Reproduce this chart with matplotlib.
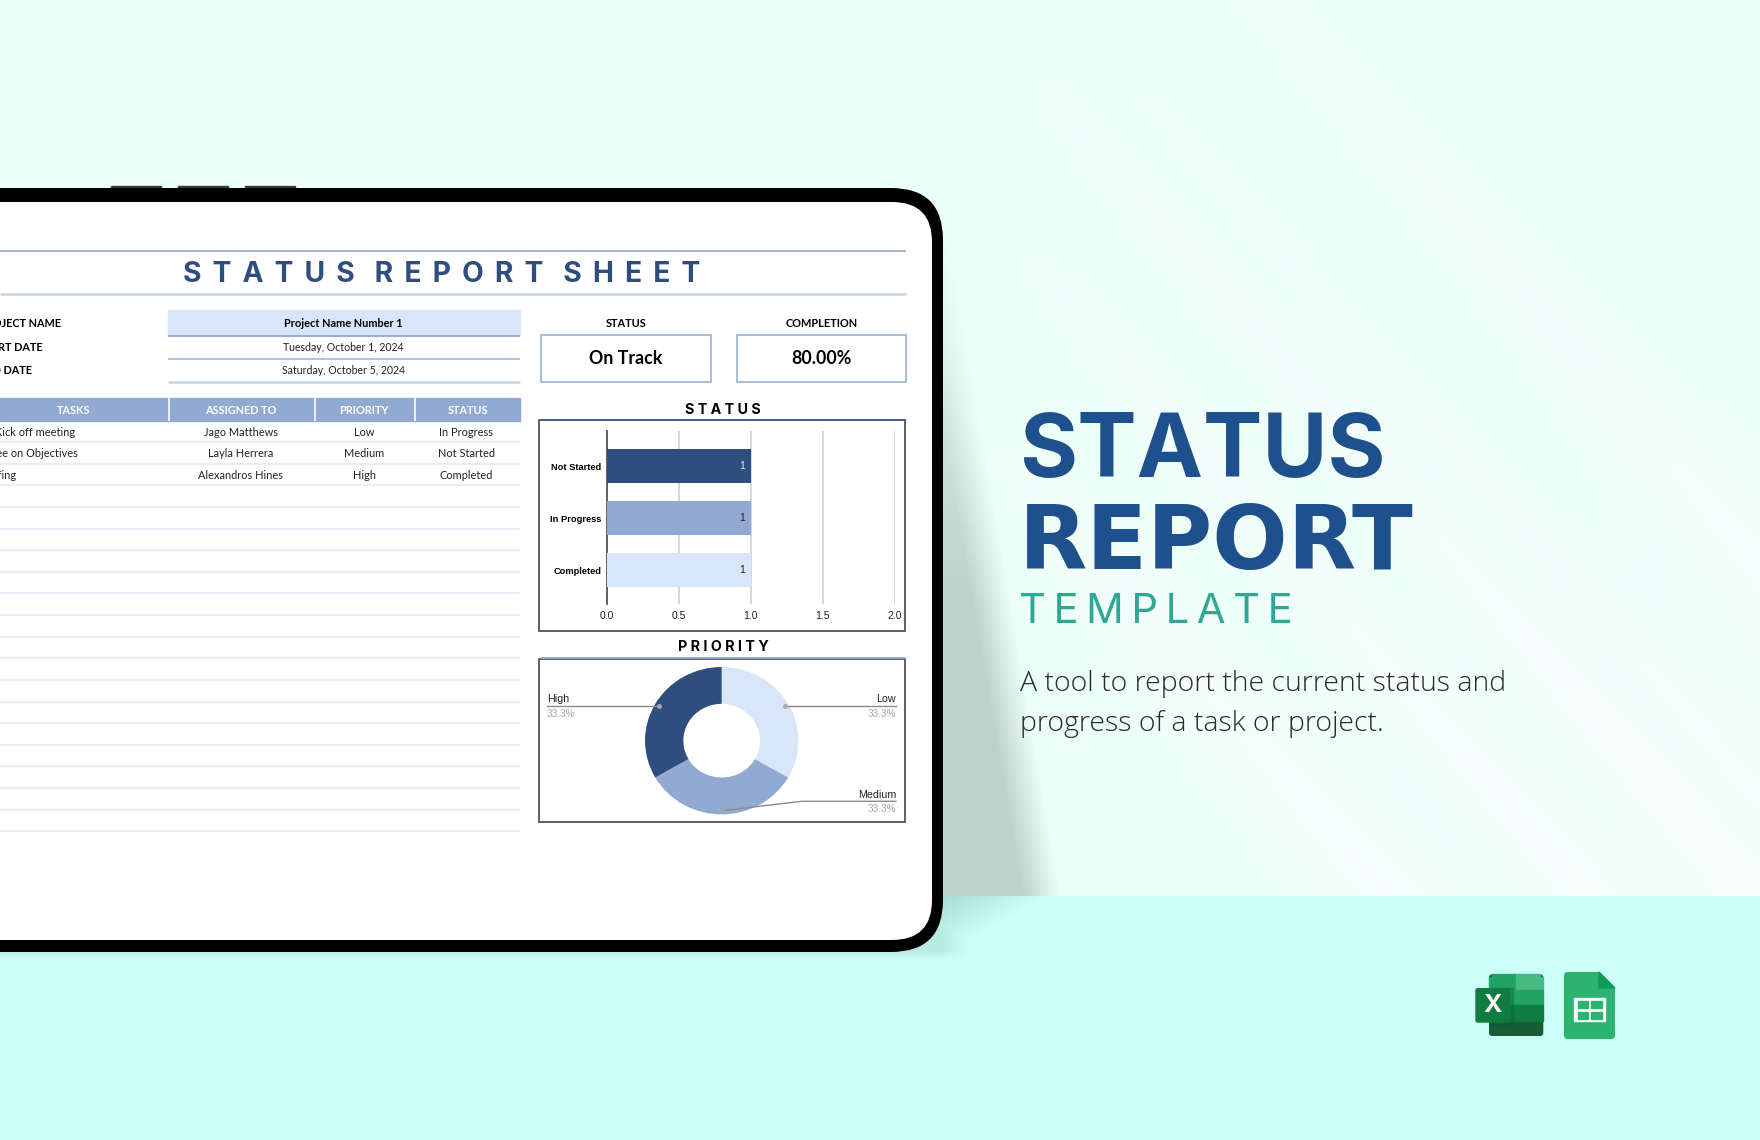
import matplotlib
matplotlib.use("Agg")
import matplotlib.pyplot as plt
import numpy as np
from matplotlib.patches import FancyBboxPatch, Polygon, Rectangle

W, H = 1760, 1140

status_names = ["Not Started", "In Progress", "Completed"]
status_counts = [1, 1, 1]
status_ticks = [0.0, 0.5, 1.0, 1.5, 2.0]
priority_names = ["Low", "Medium", "High"]
priority_counts = [1, 1, 1]
priority_share = ["33.3%", "33.3%", "33.3%"]

task_names = ["Kick off meeting", "Agree on Objectives", "Briefing"]
task_people = ["Jago Matthews", "Layla Herrera", "Alexandros Hines"]
task_priority = ["Low", "Medium", "High"]
task_status = ["In Progress", "Not Started", "Completed"]
table_header = ["TASKS", "ASSIGNED TO", "PRIORITY", "STATUS"]
info_labels = ["PROJECT NAME", "START DATE", "END DATE"]
info_values = ["Project Name Number 1", "Tuesday, October 1, 2024", "Saturday, October 5, 2024"]

NAVY = "#2F4E80"
MID = "#92A9D2"
PALE = "#D9E6F9"
THIN = "\u2009"
HAIR = "\u200a"


def spaced(text, sep):
    # letter spacing, matplotlib has no tracking option
    return sep.join(text)


def px_axes(fig, x0, y0, x1, y1, **kw):
    return fig.add_axes([x0 / W, 1 - y1 / H, (x1 - x0) / W, (y1 - y0) / H], **kw)


def background():
    yy, xx = np.mgrid[0:H, 0:W].astype(float)
    top = np.array([232, 254, 247], float)
    light = np.array([247, 255, 253], float)

    # soft diagonal light streaks
    s = xx - yy * 0.88
    t = 0.2 + 0.4 * np.clip((xx - 900) / 800, 0, 1) * np.clip(yy / 700, 0, 1)
    for c, w, a in [(965, 45, 0.4), (1266, 55, 0.35), (800, 50, 0.4), (600, 70, 0.45), (1060, 30, 0.25)]:
        t += a * np.exp(-((s - c) / w) ** 2) * np.clip((xx - 850) / 300, 0, 1)
    t = np.clip(t, 0, 1)[..., None]
    img = top * (1 - t) + light * t

    # shadow thrown by the tablet on the wall
    edge = 947 + np.clip(yy - 230, 0, None) * 0.17
    a = np.clip((edge - xx) / 38, 0, 1) * np.clip((yy - 200) / 400, 0, 1) ** 0.8 * 0.95
    a = a[..., None]
    img = img * (1 - a) + np.array([190, 207, 201], float) * a

    # floor band and its shadow
    floor = np.zeros_like(img) + np.array([204, 255, 247], float)
    d = (xx - 940) / 105 + (yy - 896) / 60
    diag = np.clip(1 - d, 0, 1) * 0.9 * (xx >= 940)
    under = np.clip((959 - yy) / 9, 0, 1) * np.clip((968 - xx) / 28, 0, 1) * 0.5
    fa = np.maximum(diag, under)[..., None]
    floor = floor * (1 - fa) + np.array([165, 215, 205], float) * fa
    img = np.where((yy >= 896)[..., None], floor, img)
    return img.astype(np.uint8)


def draw_tablet(ax):
    for x in [111, 178, 245]:
        ax.add_patch(Rectangle((x, 185.5), 50, 4, color="#3a3a3a", zorder=1))
    ax.add_patch(FancyBboxPatch((-120, 188), 1063, 764, boxstyle="round,pad=0,rounding_size=52",
                                fc="black", ec="none", zorder=2))
    ax.add_patch(FancyBboxPatch((-120, 202), 1052, 738, boxstyle="round,pad=0,rounding_size=40",
                                fc="white", ec="none", zorder=3))


def draw_sheet(ax):
    z = 4
    ax.hlines(251.3, 0, 906, color="#8FA8D0", lw=1.2, zorder=z)
    ax.hlines(293.7, 0, 906, color="#C5D3E8", lw=1.8, zorder=z)
    sep = " " + HAIR + HAIR
    ax.text(441.5, 274, spaced("STATUS", sep) + "   " + spaced("REPORT", sep) + "   " + spaced("SHEET", sep),
            family="Inter", weight="bold", size=20.3, color=NAVY, ha="center", va="center", zorder=z)

    # project info block
    ax.add_patch(Rectangle((168.4, 310), 351.2, 25.3, color=PALE, zorder=z))
    ys = [323.7, 347.7, 371]
    rights = [61, 43, 32]
    for y, r, lab, val, i in zip(ys, rights, info_labels, info_values, range(3)):
        ax.text(r, y, lab, family="Lato", weight="bold", size=7.8, color="black", ha="right", va="center", zorder=z)
        ax.text(343.5, y, val, family="Lato", weight="bold" if i == 0 else "normal", size=7.9 if i == 0 else 7.6,
                color="black" if i == 0 else "#222222", ha="center", va="center", zorder=z)
    ax.hlines(335.5, 168.4, 519.6, color="#8FA8D0", lw=1.3, zorder=z)
    ax.hlines(358.7, 168.4, 519.6, color="#A9BEE0", lw=1.3, zorder=z)
    ax.hlines(381.7, 168.4, 519.6, color="#C5D3E8", lw=1.8, zorder=z)

    # task table
    ax.add_patch(Rectangle((0, 398.3), 519.6, 22.4, color=MID, zorder=z))
    ax.vlines([168.8, 314.7, 415], 398.3, 420.7, color="white", lw=1.2, zorder=z)
    for x, lab in zip([73.6, 241, 364.3, 467.5], table_header):
        ax.text(x, 410.5, lab, family="Lato", weight="bold", size=7.8, color="white",
                ha="center", va="center", zorder=z)
    row_y = 432 + 21.65 * np.arange(len(task_names))
    for y, name, who, pr, st, r in zip(row_y, task_names, task_people, task_priority, task_status, [75, 78, 16]):
        ax.text(r, y, name, family="Lato", size=7.9, color="#222222", ha="right", va="center", zorder=z)
        ax.text(241, y, who, family="Lato", size=7.9, color="#222222", ha="center", va="center", zorder=z)
        ax.text(364, y, pr, family="Lato", size=7.9, color="#222222", ha="center", va="center", zorder=z)
        ax.text(466, y, st, family="Lato", size=7.9, color="#222222", ha="center", va="center", zorder=z)
    ax.hlines(442 + 21.63 * np.arange(19), 0, 519.6, color="#E6EEFB", lw=1.4, zorder=z)

    # status / completion cards
    for x0, x1, lab, val in [(541, 710.7, "STATUS", "On Track"), (736.7, 905.7, "COMPLETION", "80.00%")]:
        ax.add_patch(Rectangle((x0, 335.3), x1 - x0, 47, fc="white", ec="#A9BCDC", lw=1.4, zorder=z))
        ax.text((x0 + x1) / 2, 323.7, lab, family="Lato", weight="bold", size=7.9, color="black",
                ha="center", va="center", zorder=z)
        ax.text((x0 + x1) / 2, 358.5, val, family="Lato", weight="bold", size=12.8, color="black",
                ha="center", va="center", zorder=z)

    # chart frames and headings
    ax.text(723, 409.5, spaced("STATUS", " "), family="Inter", weight="bold", size=10.3, color="black",
            ha="center", va="center", zorder=z)
    ax.text(723, 647, spaced("PRIORITY", " "), family="Inter", weight="bold", size=10.3, color="black",
            ha="center", va="center", zorder=z)
    ax.add_patch(Rectangle((539, 420), 366, 210.7, fc="white", ec="#555555", lw=1.3, zorder=z))
    ax.add_patch(Rectangle((538.5, 659), 366, 163, fc="white", ec="#555555", lw=1.3, zorder=z))
    ax.hlines(420, 541, 906, color="#3E5C92", lw=1.3, zorder=z + 0.1)
    ax.hlines(657.7, 541, 906, color="#8FA8D1", lw=1.3, zorder=z + 0.1)


def draw_headline(ax):
    ax.text(1019, 477, "STATUS", family="Inter", weight="bold", size=64, color="#1F508E", ha="left", va="baseline")
    ax.text(1019, 569, "REPORT", family="DejaVu Sans", weight="bold", size=64, color="#1F508E", ha="left", va="baseline")
    ax.text(1019, 623, spaced("TEMPLATE", THIN), family="Inter", size=30, color="#2FA893", ha="left", va="baseline")
    ax.text(1020, 691, "A tool to report the current status and", family="Open Sans", weight="light",
            size=20.5, color="#2A2A2A", ha="left", va="baseline")
    ax.text(1020, 731, "progress of a task or project.", family="Open Sans", weight="light",
            size=20.5, color="#2A2A2A", ha="left", va="baseline")


def round_box(ax, x0, y0, x1, y1, r, color, zorder=3):
    ax.add_patch(FancyBboxPatch((x0, y0), x1 - x0, y1 - y0, boxstyle=f"round,pad=0,rounding_size={r}",
                                fc=color, ec="none", zorder=zorder))


def draw_icons(ax):
    # excel
    round_box(ax, 1489, 974.3, 1543.3, 1036, 3, "#185C37")
    ax.add_patch(Rectangle((1489, 977), 27, 28, color="#21A366", zorder=3))
    ax.add_patch(Rectangle((1492, 974.3), 24, 4, color="#21A366", zorder=3))
    ax.add_patch(Rectangle((1516, 977), 27.3, 13, color="#47B983", zorder=3))
    ax.add_patch(Rectangle((1516, 974.3), 24, 4, color="#47B983", zorder=3))
    ax.add_patch(Rectangle((1516, 990), 27.3, 15, color="#21A366", zorder=3))
    ax.add_patch(Rectangle((1489, 1005), 54.3, 15.7, color="#107C41", zorder=3))
    ax.add_patch(Rectangle((1489, 988), 24, 37, color="#0B5B30", alpha=0.35, zorder=3.5))
    round_box(ax, 1475.3, 988, 1510, 1022.7, 2.5, "#107C41", zorder=4)
    ax.text(1492.5, 1005.5, "X", family="Inter", weight="bold", size=18, color="white",
            ha="center", va="center", zorder=5)
    # google sheets
    round_box(ax, 1564, 972, 1615, 1039, 4, "#2BB36F")
    ax.add_patch(Polygon([(1599, 971), (1616, 971), (1616, 989)], color="#CCFFF7", zorder=3.2))
    ax.add_patch(Polygon([(1599, 972), (1615, 988), (1599, 988)], color="#0B9D58", zorder=3.3))
    ax.add_patch(Rectangle((1574, 997.7), 31, 23, color="white", zorder=4))
    for x in [1577.5, 1591]:
        for y in [1001, 1011.5]:
            ax.add_patch(Rectangle((x, y), 10.5, 7, color="#2BB36F", zorder=5))


fig = plt.figure(figsize=(W / 100, H / 100), dpi=100)
page = fig.add_axes([0, 0, 1, 1], zorder=0)
page.imshow(background(), extent=(0, W, H, 0), aspect="auto", interpolation="bilinear", zorder=0)
page.set_xlim(0, W)
page.set_ylim(H, 0)
page.axis("off")
draw_tablet(page)
draw_sheet(page)
draw_headline(page)
draw_icons(page)

# status bars
ax = px_axes(fig, 606.7, 430.7, 894.7, 604, zorder=2)
ax.patch.set_alpha(0)
bars = ax.barh(status_names, status_counts, height=0.65, color=[NAVY, MID, PALE], zorder=3)
ax.set_xlim(0, 2)
ax.set_ylim(2.65, -0.68)
ax.set_xticks(status_ticks, [f"{v:.1f}" for v in status_ticks], family="Liberation Sans", fontsize=7.5, color="#222222")
ax.tick_params(axis="both", length=0)
ax.tick_params(axis="x", pad=5)
ax.tick_params(axis="y", pad=4)
for lab in ax.get_yticklabels():
    lab.set(family="Liberation Sans", weight="bold", fontsize=6.7, color="black")
ax.grid(axis="x", color="#CFCFCF", lw=1.2, zorder=1)
ax.set_axisbelow(True)
for name in ["top", "right", "bottom"]:
    ax.spines[name].set_visible(False)
ax.spines["left"].set(color="#555555", lw=1.3, zorder=2)
labels = ax.bar_label(bars, padding=-8.5, family="Liberation Sans", fontsize=7.5)
for lab, c in zip(labels, ["#E8E8E8", "#222222", "#222222"]):
    lab.set_color(c)

# priority donut
cx, cy, rx, ry = 721.7, 740.7, 76.7, 73.7
donut = px_axes(fig, cx - rx, cy - ry, cx + rx, cy + ry, zorder=2)
donut.patch.set_alpha(0)
wedges, _ = donut.pie(priority_counts, colors=[PALE, MID, NAVY], startangle=90, counterclock=False,
                      radius=1, wedgeprops=dict(width=0.5))
donut.set_aspect("auto")
donut.set_xlim(-1, 1)
donut.set_ylim(-1, 1)

# leader lines sit over the donut
top = fig.add_axes([0, 0, 1, 1], zorder=3)
top.set_xlim(0, W)
top.set_ylim(H, 0)
top.axis("off")
ends = [(896, 706, None), (896, 801.3, 801.7), (546.7, 706, None)]
for w, name, share, (xe, ye, knee) in zip(wedges, priority_names, priority_share, ends):
    ang = np.deg2rad((w.theta1 + w.theta2) / 2)
    px = cx + 0.95 * rx * np.cos(ang)
    py = cy - 0.95 * ry * np.sin(ang)
    xs, ys = [px], [py]
    if knee is not None:
        xs.append(knee)
        ys.append(ye)
    else:
        ys[0] = ye
    xs.append(xe)
    ys.append(ye)
    top.plot(xs, ys, color="#8A8A8A", lw=1)
    top.plot(xs[0], ys[0], "o", color="#A8A8A8", ms=2.5)
    ha = "left" if xe < cx else "right"
    top.text(xe, ye - 6.7, name, family="Liberation Sans", size=7.7, color="#222222", ha=ha, va="center")
    top.text(xe, ye + 7.7, share, family="Liberation Sans", size=7.2, color="#A6A6A6", ha=ha, va="center")

fig.savefig("out.png", dpi=100)
